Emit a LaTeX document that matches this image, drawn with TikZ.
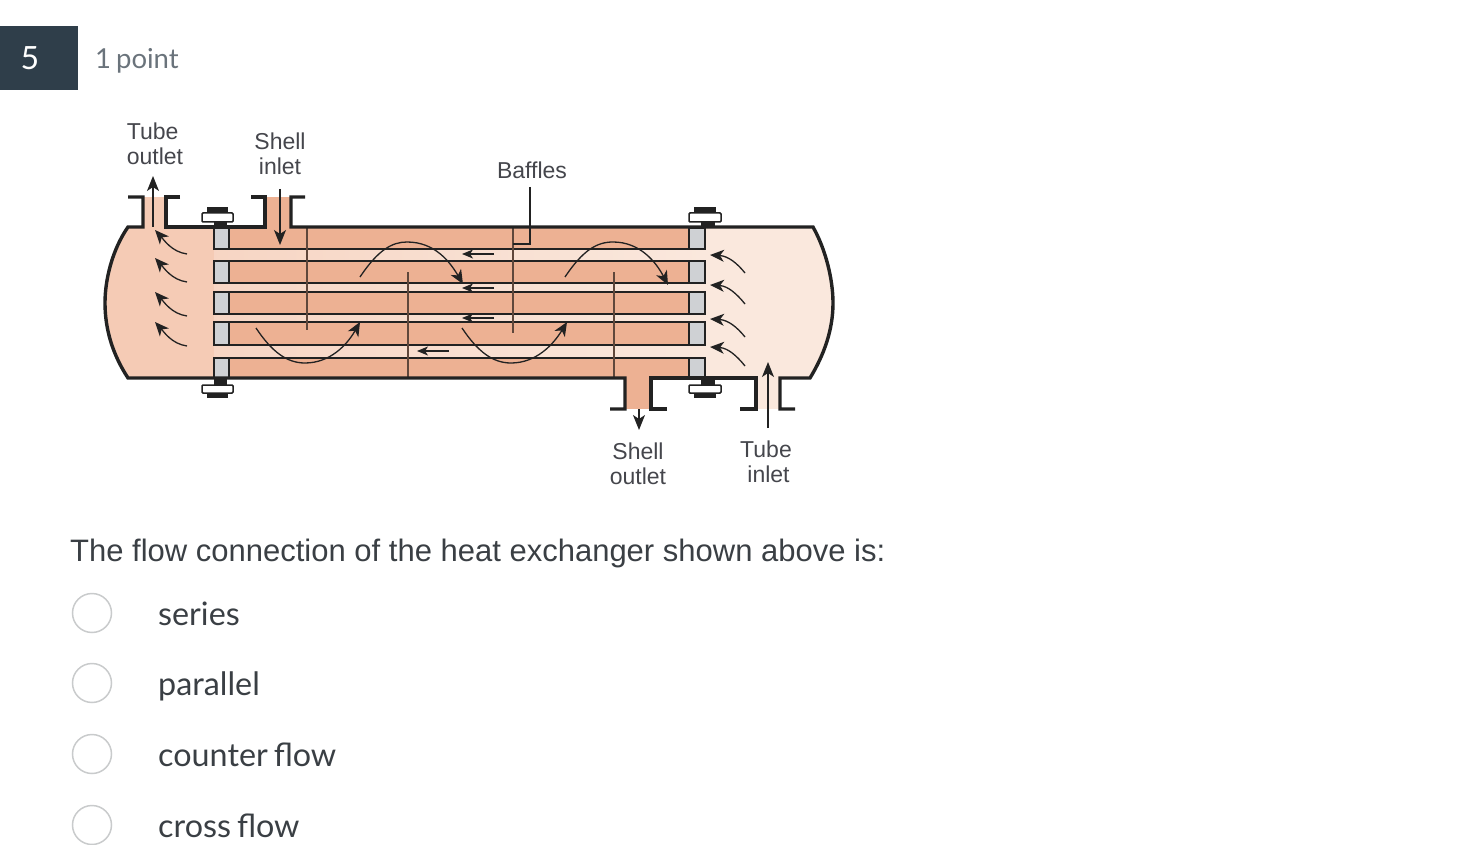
\documentclass[tikz,border=0pt]{standalone}
\usepackage{fontspec}
\setmainfont{Liberation Sans}
\newfontfamily\latofont{Lato}
\usetikzlibrary{arrows.meta}
\definecolor{badgecol}{HTML}{2F3E4A}
\definecolor{pointcol}{HTML}{6A737B}
\definecolor{textcol}{HTML}{3A3F44}
\definecolor{labelcol}{HTML}{45464C}
\definecolor{radiocol}{HTML}{C9CBCC}
\definecolor{inkcol}{HTML}{222222}
\definecolor{shellcol}{HTML}{EDB193}
\definecolor{leftcol}{HTML}{F5CBB5}
\definecolor{rightcol}{HTML}{FAE8DD}
\definecolor{sheetcol}{HTML}{CFD1D4}
\tikzset{
	wall/.style={draw=inkcol,line width=3.4pt},
	thinline/.style={draw=inkcol,line width=1.5pt},
	bafflecol/.style={draw=black!60!shellcol,line width=1.3pt},
	flow/.style={draw=inkcol,line width=1.3pt,-{Stealth[length=14pt,width=12pt,inset=4pt]}},
	pipeflow/.style={draw=inkcol,line width=1.4pt,-{Stealth[length=15pt,width=12pt,inset=4pt]}},
	tubeflow/.style={draw=inkcol,line width=1.3pt,-{Stealth[length=11pt,width=9pt,inset=3pt]}},
	partlabel/.style={text=labelcol,inner sep=0pt,align=center,font=\fontsize{23}{25.5}\selectfont},
	choice/.style={text=textcol,inner sep=0pt,anchor=base west,font=\latofont\fontsize{32.3}{36}\selectfont\spaceskip 6pt\relax},
	radio/.style={circle,draw=radiocol,line width=1.5pt,fill=white,minimum size=39pt,inner sep=0pt}
}
\begin{document}
\begin{tikzpicture}[x=1pt,y=-1pt]
	\useasboundingbox (0,0) rectangle (1478,845);
	% header
	\fill[badgecol] (0,26) rectangle (78,90);
	\node[text=white,inner sep=0pt,font=\latofont\fontsize{32}{36}\selectfont] (number) at (30,58) {5};
	\node[text=pointcol,inner sep=0pt,anchor=base west,font=\latofont\fontsize{27.5}{32}\selectfont\spaceskip 5pt\relax] (points) at (95,69) {1 point};
	% channels and shell
	\fill[leftcol] (128,227) .. controls (112,250) and (105,280) .. (105,303) .. controls (105,330) and (113,355) .. (128,378) -- (214,378) -- (214,227) -- cycle;
	\fill[rightcol] (813,227) .. controls (826,250) and (833,280) .. (833,303) .. controls (833,330) and (824,355) .. (810,378) -- (705,378) -- (705,227) -- cycle;
	\fill[shellcol] (229,227) rectangle (689,378);
	% nozzles
	\fill[leftcol] (143,197) rectangle (166,227);
	\fill[shellcol] (265,197) rectangle (291,227);
	\fill[shellcol] (625,378) rectangle (651,409);
	\fill[rightcol] (756,378) rectangle (780,409);
	% tubes
	\foreach \ya/\yb in {249/261,283/292,314/322,345/358}{
		\shade[left color=leftcol!80!white,right color=rightcol] (214,\ya) rectangle (705,\yb);
		\draw[thinline] (214,\ya) -- (705,\ya) (214,\yb) -- (705,\yb);
	}
	% tube sheets
	\foreach \ya/\yb in {228/249,261/283,292/314,322/345,358/378}{
		\draw[thinline,fill=sheetcol] (214,\ya) rectangle (229,\yb);
		\draw[thinline,fill=sheetcol] (689,\ya) rectangle (705,\yb);
	}
	% baffles
	\draw[bafflecol] (307,227) -- (307,330);
	\draw[bafflecol] (408,272) -- (408,378);
	\draw[bafflecol] (513,227) -- (513,333);
	\draw[bafflecol] (614,272) -- (614,378);
	% outline
	\draw[wall] (128,197) -- (143,197) -- (143,227) -- (128,227) .. controls (112,250) and (105,280) .. (105,303) .. controls (105,330) and (113,355) .. (128,378) -- (625,378) -- (625,409) -- (610,409);
	\draw[wall] (180,197) -- (166,197) -- (166,227) -- (265,227) -- (265,197) -- (251,197);
	\draw[wall] (305,197) -- (291,197) -- (291,227) -- (813,227) .. controls (826,250) and (833,280) .. (833,303) .. controls (833,330) and (824,355) .. (810,378) -- (780,378) -- (780,409) -- (795,409);
	\draw[wall] (667,409) -- (651,409) -- (651,378) -- (756,378) -- (756,409) -- (740,409);
	% bolts
	\foreach \xa/\xb in {202/233,689/721}{
		\fill[inkcol] (\xa+5,207.5) rectangle (\xb-5,213);
		\fill[inkcol] (\xa+12,222) rectangle (\xb-6,227);
		\draw[thinline,fill=white,rounded corners=1pt] (\xa,213) rectangle (\xb,222);
		\fill[inkcol] (\xa+12,378) rectangle (\xb-6,385);
		\fill[inkcol] (\xa+5,393) rectangle (\xb-5,397.5);
		\draw[thinline,fill=white,rounded corners=1pt] (\xa,385) rectangle (\xb,393);
	}
	% flow in the shell
	\draw[flow] (360,277) .. controls (378,250) and (392,242) .. (407,242) .. controls (435,242) and (450,262) .. (463,284);
	\draw[flow] (565,277) .. controls (583,250) and (597,242) .. (613,242) .. controls (640,242) and (656,262) .. (668,285);
	\draw[flow] (256,328) .. controls (272,352) and (287,363) .. (305,363) .. controls (330,363) and (347,345) .. (360,322);
	\draw[flow] (462,328) .. controls (478,352) and (493,363) .. (511,363) .. controls (536,363) and (553,345) .. (567,322);
	% flow in the channels
	\foreach \yb/\ye in {254/230,282/258,316/292,346/322}{
		\draw[flow] (187,\yb) .. controls (172,\yb-2) and (164,\ye+10) .. (155,\ye);
	}
	\foreach \yb/\ye in {273/255,304/285,337/319,366/347}{
		\draw[flow] (745,\yb) .. controls (737,\yb-10) and (728,\ye+1) .. (710,\ye);
	}
	% flow in the tubes
	\foreach \yc in {254,288,318}{
		\draw[tubeflow] (494,\yc) -- (462,\yc);
	}
	\draw[tubeflow] (449,351) -- (417,351);
	% labels
	\node[partlabel,align=left] (tubeoutlet) at (155,144) {Tube\\outlet};
	\node[partlabel] (shellinlet) at (280,154) {Shell\\inlet};
	\node[partlabel] (baffles) at (532,170) {Baffles};
	\node[partlabel] (shelloutlet) at (638,464) {Shell\\outlet};
	\node[partlabel] (tubeinlet) at (766,462) {Tube\\\hspace*{5pt}inlet};
	\coordinate (tubeoutletin) at (153,227);
	\coordinate (tubeoutletend) at (153,176);
	\coordinate (shellinletin) at (280,189);
	\coordinate (shellinletend) at (280,245);
	\coordinate (shelloutletin) at (639,409);
	\coordinate (shelloutletend) at (639,430);
	\coordinate (tubeinletin) at (768,428);
	\coordinate (tubeinletend) at (768,362);
	\coordinate (bafflestart) at (530,187);
	\coordinate (bafflebend) at (530,244);
	\coordinate (bafflefoot) at (513,244);
	\draw[pipeflow] (tubeoutletin) -- (tubeoutletend);
	\draw[pipeflow] (shellinletin) -- (shellinletend);
	\draw[pipeflow] (shelloutletin) -- (shelloutletend);
	\draw[pipeflow] (tubeinletin) -- (tubeinletend);
	\draw[thinline] (bafflestart) -- (bafflebend) -- (bafflefoot);
	% question
	\node[text=textcol,inner sep=0pt,anchor=base west,font=\fontsize{31}{34}\selectfont] (question) at (70,561) {The flow connection of the heat exchanger shown above is:};
	\foreach \yc/\name/\txt in {613/series/series,683/parallel/parallel,754/counter/counter flow,825/cross/cross flow}{
		\node[radio] (radio\name) at (92,\yc) {};
		\node[choice] (\name) at (158,\yc+12) {\txt};
	}
\end{tikzpicture}
\end{document}
